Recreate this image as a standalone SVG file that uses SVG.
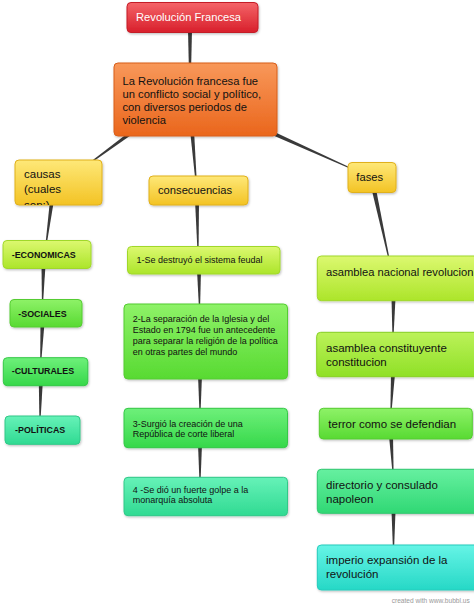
<svg xmlns="http://www.w3.org/2000/svg" width="474" height="609" viewBox="0 0 474 609">
<style>
text{font-family:"Liberation Sans",Arial,sans-serif;fill:#111}
.b{stroke-width:1;filter:url(#sh)}
.t11{font-size:11.2px}
.t12{font-size:11.5px}
.t9{font-size:9px}
.bold{font-size:8.9px;font-weight:bold}
.con polygon{fill:#3a3a3a}
</style>
<defs>
<filter id="sh" x="-10%" y="-10%" width="120%" height="130%"><feDropShadow dx="0.8" dy="1.2" stdDeviation="0.9" flood-color="#000" flood-opacity="0.25"/></filter>
<linearGradient id="gRed" x1="0" y1="0" x2="0" y2="1"><stop offset="0" stop-color="#f46468"/><stop offset="1" stop-color="#d81f2b"/></linearGradient>
<linearGradient id="gOra" x1="0" y1="0" x2="0" y2="1"><stop offset="0" stop-color="#f8985a"/><stop offset="1" stop-color="#ea661c"/></linearGradient>
<linearGradient id="gYel" x1="0" y1="0" x2="0" y2="1"><stop offset="0" stop-color="#fee878"/><stop offset="1" stop-color="#f3c324"/></linearGradient>
<linearGradient id="gLime" x1="0" y1="0" x2="0" y2="1"><stop offset="0" stop-color="#dcf870"/><stop offset="1" stop-color="#ace52a"/></linearGradient>
<linearGradient id="gLime2" x1="0" y1="0" x2="0" y2="1"><stop offset="0" stop-color="#bcf25a"/><stop offset="1" stop-color="#8fe026"/></linearGradient>
<linearGradient id="gGrn" x1="0" y1="0" x2="0" y2="1"><stop offset="0" stop-color="#8ef268"/><stop offset="1" stop-color="#58da32"/></linearGradient>
<linearGradient id="gGrn2" x1="0" y1="0" x2="0" y2="1"><stop offset="0" stop-color="#6ef07a"/><stop offset="1" stop-color="#36d84a"/></linearGradient>
<linearGradient id="gMint" x1="0" y1="0" x2="0" y2="1"><stop offset="0" stop-color="#66f0a0"/><stop offset="1" stop-color="#30d874"/></linearGradient>
<linearGradient id="gTeal" x1="0" y1="0" x2="0" y2="1"><stop offset="0" stop-color="#66f2b8"/><stop offset="1" stop-color="#30da92"/></linearGradient>
<linearGradient id="gCyan" x1="0" y1="0" x2="0" y2="1"><stop offset="0" stop-color="#66f4e6"/><stop offset="1" stop-color="#26d8c6"/></linearGradient>
<clipPath id="clipCausas"><rect x="15" y="160" width="87" height="45" rx="4"/></clipPath>
</defs>
<rect width="474" height="609" fill="#fff"/>

<g id="connectors" class="con">
<polygon points="188,30 192,30 191.2,65 188.8,65"/>
<polygon points="136.2,131.6 90.4,163.5 89.6,162.5 133.8,128.4"/>
<polygon points="190,130 194,130 196.7,180 195.3,180"/>
<polygon points="270.8,130.2 350.2,167.5 349.8,168.5 269.2,133.8"/>
<polygon points="50,200 54,200 46.6,245 45.4,245"/>
<polygon points="41.5,265 45.5,265 43.1,302 41.9,302"/>
<polygon points="40.5,323 44.5,323 41.4,360 40.2,360"/>
<polygon points="38.8,382 42.8,382 40.6,419 39.4,419"/>
<polygon points="195,200 199,200 198.6,250 197.4,250"/>
<polygon points="197,270 201,270 200.1,307 198.9,307"/>
<polygon points="198,375 202,375 200.6,411 199.4,411"/>
<polygon points="198,444 202,444 200.6,480 199.4,480"/>
<polygon points="371.9,190.5 376.1,189.5 389.6,258.9 388.4,259.1"/>
<polygon points="391.5,298 395.5,298 393.6,335 392.4,335"/>
<polygon points="391,374 395,374 391.6,411 390.4,411"/>
<polygon points="389,436 393,436 393.6,472 392.4,472"/>
<polygon points="391.5,511 395.5,511 394.1,548 392.9,548"/>
</g>

<g id="n-revolucion">
<rect class="b" x="127" y="2.5" width="131" height="30" rx="4" fill="url(#gRed)" stroke="#c41a26"/>
<text class="t11" x="136" y="21" style="fill:#fff">Revolución Francesa</text>
</g>

<g id="n-definicion">
<rect class="b" x="114" y="63" width="163" height="73" rx="4" fill="url(#gOra)" stroke="#d85e1a"/>
<text class="t11" x="122.5"><tspan x="122.5" y="85">La Revolución francesa fue</tspan><tspan x="122.5" y="98">un conflicto social y político,</tspan><tspan x="122.5" y="111">con diversos periodos de</tspan><tspan x="122.5" y="124">violencia</tspan></text>
</g>

<g id="n-causas">
<rect class="b" x="15" y="160" width="87" height="45" rx="4" fill="url(#gYel)" stroke="#e0b01c"/>
<g clip-path="url(#clipCausas)">
<text class="t12" x="24"><tspan x="24" y="177.5">causas</tspan><tspan x="24" y="193">(cuales</tspan><tspan x="24" y="208.5">son:)</tspan></text>
</g>
</g>

<g id="n-consecuencias">
<rect class="b" x="149" y="176" width="99" height="29" rx="4" fill="url(#gYel)" stroke="#e0b01c"/>
<text class="t11" x="158" y="194">consecuencias</text>
</g>

<g id="n-fases">
<rect class="b" x="348" y="162.5" width="48" height="30" rx="4" fill="url(#gYel)" stroke="#e0b01c"/>
<text class="t11" x="356.3" y="181.3">fases</text>
</g>

<g id="n-economicas">
<rect class="b" x="3" y="240.5" width="88" height="28" rx="4" fill="url(#gLime)" stroke="#a0d82a"/>
<text class="bold" x="11.7" y="257.6">-ECONOMICAS</text>
</g>

<g id="n-sociales">
<rect class="b" x="10" y="299.5" width="72" height="27.5" rx="4" fill="url(#gGrn)" stroke="#54cc30"/>
<text class="bold" x="18.3" y="316.6">-SOCIALES</text>
</g>

<g id="n-culturales">
<rect class="b" x="3.3" y="357.7" width="84.5" height="28" rx="4" fill="url(#gGrn2)" stroke="#34c846"/>
<text class="bold" x="11.7" y="374.3">-CULTURALES</text>
</g>

<g id="n-politicas">
<rect class="b" x="5" y="416" width="75" height="28.3" rx="4" fill="url(#gTeal)" stroke="#30c888"/>
<text class="bold" x="15" y="433.3">-POLÍTICAS</text>
</g>

<g id="n-c1">
<rect class="b" x="127.5" y="246.5" width="152.5" height="27.5" rx="4" fill="url(#gLime)" stroke="#a0d82a"/>
<text class="t9" x="136.5" y="263.3">1-Se destruyó el sistema feudal</text>
</g>

<g id="n-c2">
<rect class="b" x="124" y="304" width="163.5" height="75" rx="4" fill="url(#gGrn)" stroke="#54cc30"/>
<text class="t9" x="132.7"><tspan x="132.7" y="321.5">2-La separación de la Iglesia y del</tspan><tspan x="132.7" y="332.6">Estado en 1794 fue un antecedente</tspan><tspan x="132.7" y="344">para separar la religión de la política</tspan><tspan x="132.7" y="355">en otras partes del mundo</tspan></text>
</g>

<g id="n-c3">
<rect class="b" x="124" y="408.3" width="163.5" height="39.4" rx="4" fill="url(#gGrn2)" stroke="#34c846"/>
<text class="t9" x="132.7"><tspan x="132.7" y="426.5">3-Surgió la creación de una</tspan><tspan x="132.7" y="436.6">República de corte liberal</tspan></text>
</g>

<g id="n-c4">
<rect class="b" x="124" y="477.3" width="163.5" height="38.4" rx="4" fill="url(#gTeal)" stroke="#30c888"/>
<text class="t9" x="132.7"><tspan x="132.7" y="493.2">4 -Se dió un fuerte golpe a la</tspan><tspan x="132.7" y="503.3">monarquía absoluta</tspan></text>
</g>

<g id="n-f1">
<rect class="b" x="317.3" y="256" width="175" height="44.7" rx="4" fill="url(#gLime)" stroke="#a0d82a"/>
<text x="326" y="275.8" style="font-size:11.2px">asamblea nacional revolucion</text>
</g>

<g id="n-f2">
<rect class="b" x="316.7" y="332.3" width="175" height="44.4" rx="4" fill="url(#gLime2)" stroke="#88d026"/>
<text class="t12" x="326"><tspan x="326" y="351.8">asamblea constituyente</tspan><tspan x="326" y="365.8">constitucion</tspan></text>
</g>

<g id="n-f3">
<rect class="b" x="319.3" y="408.3" width="153" height="30.7" rx="4" fill="url(#gGrn)" stroke="#54cc30"/>
<text class="t12" x="328.3" y="427.6">terror como se defendian</text>
</g>

<g id="n-f4">
<rect class="b" x="317.3" y="469.3" width="175" height="44" rx="4" fill="url(#gMint)" stroke="#30c870"/>
<text class="t12" x="326"><tspan x="326" y="489">directorio y consulado</tspan><tspan x="326" y="502.5">napoleon</tspan></text>
</g>

<g id="n-f5">
<rect class="b" x="317.3" y="545" width="175" height="45" rx="4" fill="url(#gCyan)" stroke="#24ccbc"/>
<text class="t12" x="326"><tspan x="326" y="564">imperio expansión de la</tspan><tspan x="326" y="577.5">revolución</tspan></text>
</g>

<text x="391.7" y="603" style="font-size:6.6px;fill:#999">created with www.bubbl.us</text>
</svg>
